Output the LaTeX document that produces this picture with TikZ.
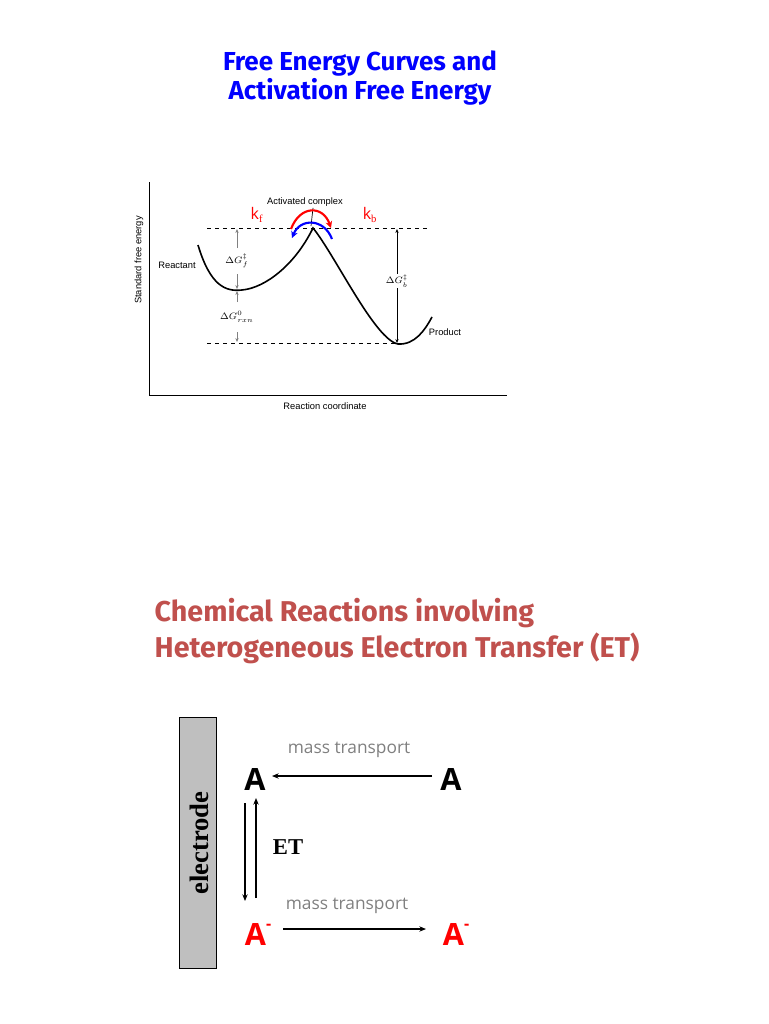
\documentclass[tikz,border=0pt]{standalone}
\usepackage{fontspec}
\setmainfont{Liberation Serif}
\setsansfont{Open Sans}
\newfontfamily\comic{Fira Sans}
\newfontfamily\helv{Liberation Sans}
\usetikzlibrary{arrows.meta}
\begin{document}
\begin{tikzpicture}[x=0.75pt,y=-0.75pt,
  thinln/.style={line width=0.5pt},
  dashln/.style={dashed,line width=0.5pt},
  small/.style={font=\helv\fontsize{7}{8}\selectfont,inner sep=1pt},
  gl/.style={font=\fontsize{7}{8}\selectfont,inner sep=0.5pt,fill=white},
  big/.style={font=\sffamily\bfseries\fontsize{23}{24}\selectfont,inner sep=0pt},
  arr/.style={-{Stealth[length=5pt,width=4pt]},line width=0.8pt}]
\useasboundingbox (0,0) rectangle (768,1024);
\fill[white] (0,0) rectangle (768,1024);
% title
\node[font=\comic\fontsize{19.5}{22}\selectfont\bfseries,text=blue,align=center] (title) at (360,78) {Free Energy Curves and\\Activation Free Energy};
% axes
\draw[line width=0.7pt] (149,182) coordinate (ytop) -- (149,395) coordinate (orig) -- (507,395) coordinate (xend);
\node[small,rotate=90] (ylab) at (139,260) {Standard free energy};
\node[small] (xlab) at (325,406) {Reaction coordinate};
% dashed levels
\draw[dashln] (207,228) coordinate (d1) -- (427,228) coordinate (d2);
\draw[dashln] (207,343) coordinate (d3) -- (400,343) coordinate (d4);
% curve
\draw[line width=1.2pt] (198,245) .. controls (210,285) and (225,292) .. (242,290)
  .. controls (265,288) and (295,265) .. (313,228)
  .. controls (335,255) and (375,340) .. (398,344)
  .. controls (415,345) and (425,330) .. (432,317);
% arrows dG
\draw[thinln,-{Stealth[length=3pt,width=2.5pt]},gray] (237,248) coordinate (a1) -- (237,229);
\draw[thinln,-{Stealth[length=3pt,width=2.5pt]},gray] (237,274) -- (237,289);
\draw[thinln,-{Stealth[length=3pt,width=2.5pt]},gray] (237,302) -- (237,291);
\draw[thinln,-{Stealth[length=3pt,width=2.5pt]},gray] (237,332) -- (237,342);
\draw[thinln,{Stealth[length=3pt,width=2.5pt]}-{Stealth[length=3pt,width=2.5pt]}] (397,229) coordinate (b1) -- (397,343) coordinate (b2);
\node[gl] (gf) at (237,261) {$\Delta G_f^{\ddagger}$};
\node[gl] (g0) at (237,317) {$\Delta G_{rxn}^{0}$};
\node[gl] (gb) at (397,281) {$\Delta G_b^{\ddagger}$};
\node[small] (react) at (177,265) {Reactant};
\node[small] (prod) at (445,332) {Product};
\node[small] (ac) at (305,202) {Activated complex};
\draw[thinln] (ac.south) ++(8,0) -- (311,226);
% kf kb
\node[font=\sffamily\fontsize{12}{13}\selectfont,text=red] (kf) at (257,215) {k$_\mathrm{f}$};
\node[font=\sffamily\fontsize{12}{13}\selectfont,text=red] (kb) at (370,215) {k$_\mathrm{b}$};
\draw[red,line width=1.6pt,-{Stealth[length=5pt,width=5pt]}] (291,229) .. controls (300,205) and (323,205) .. (331,228);
\draw[blue,line width=1.6pt,-{Stealth[length=5pt,width=5pt]}] (332,239) .. controls (324,218) and (300,218) .. (292,238);
% heading
\node[font=\comic\fontsize{21.5}{27}\selectfont\bfseries,text={rgb,255:red,192;green,80;blue,77},align=left,anchor=west] (head) at (150,631) {Chemical Reactions involving\\Heterogeneous Electron Transfer (ET)};
% electrode
\draw[fill={rgb,255:red,191;green,191;blue,191},line width=0.6pt] (179,717) rectangle (216,968);
\node[font=\bfseries\fontsize{20}{20}\selectfont,rotate=90] (el) at (199,843) {electrode};
% species
\node[big] (A1) at (255,780) {A};
\node[big] (A2) at (451,780) {A};
\node[big,text=red] (B1) at (258,934) {A\raisebox{0.95ex}{\fontsize{12}{12}\selectfont -}};
\node[big,text=red] (B2) at (456,934) {A\raisebox{0.95ex}{\fontsize{12}{12}\selectfont -}};
\draw[arr] (432,776) -- (272,776);
\draw[arr] (283,929) -- (426,929);
\draw[arr] (245,803) -- (245,901);
\draw[arr] (256,898) -- (256,798);
\node[font=\bfseries\fontsize{17}{18}\selectfont] (et) at (288,847) {ET};
\node[font=\sffamily\fontsize{13}{14}\selectfont,text=gray] (m1) at (349,750) {mass transport};
\node[font=\sffamily\fontsize{13}{14}\selectfont,text=gray] (m2) at (347,906) {mass transport};
\end{tikzpicture}
\end{document}
